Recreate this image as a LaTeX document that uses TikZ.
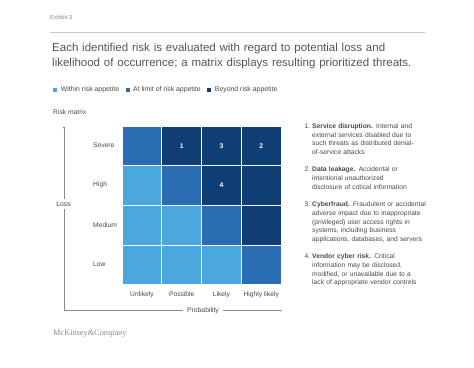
\documentclass[tikz,border=0pt]{standalone}
\usepackage{fontspec}
\setmainfont{Liberation Sans}
\newfontfamily\mckfont{Liberation Serif}
\usetikzlibrary{arrows.meta}
\definecolor{lightb}{HTML}{4BA8DE}
\definecolor{midb}{HTML}{2A6DB3}
\definecolor{darkb}{HTML}{0F3E74}
\definecolor{titlegray}{HTML}{555555}
\definecolor{labgray}{HTML}{4A4A4A}
\definecolor{rulegray}{HTML}{C8C8C8}
\definecolor{axisgray}{HTML}{8A8A8A}
\begin{document}
\begin{tikzpicture}[x=1pt,y=-1pt,
  cell/.style={draw=white, line width=0.8pt, minimum width=39.75pt, minimum height=39.6pt,
    inner sep=0pt, anchor=north west, text=white, font=\fontsize{6.8}{8}\selectfont\bfseries},
  rowlab/.style={anchor=west, inner sep=0pt, text=labgray, font=\fontsize{6.7}{8}\selectfont},
  collab/.style={anchor=center, inner sep=0pt, text=labgray, font=\fontsize{6.7}{8}\selectfont},
  legsq/.style={minimum size=4.2pt, inner sep=0pt, anchor=center},
  legtxt/.style={anchor=west, inner sep=0pt, text=labgray, font=\fontsize{6.9}{8}\selectfont},
  axisline/.style={draw=axisgray, line width=0.5pt, -{Latex[length=2.2pt,width=2.2pt]}},
  axislab/.style={fill=white, inner sep=2.5pt, text=labgray, font=\fontsize{6.8}{8}\selectfont},
  itemnum/.style={anchor=base west, inner sep=0pt, text=labgray, font=\fontsize{6.7}{8.7}\selectfont},
  itemtxt/.style={anchor=base west, inner sep=0pt, text width=130pt, align=left, text=labgray,
    font=\fontsize{6.7}{8.7}\selectfont}]
\useasboundingbox[fill=white] (0,0) rectangle (474,367);

% header
\node[anchor=west, inner sep=0pt, text=axisgray, font=\fontsize{5.8}{7}\selectfont] (exh) at (50,17.3) {Exhibit 3};
\coordinate (rl) at (50,32.3);
\coordinate (rr) at (425,32.3);
\draw[rulegray, line width=0.6pt] (rl) -- (rr);
\node[anchor=base west, inner sep=0pt, text width=400pt, align=left, text=titlegray, font=\fontsize{11.5}{15}\selectfont] (title) at (52,51.5)
  {Each identified risk is evaluated with regard to potential loss and\\likelihood of occurrence; a matrix displays resulting prioritized threats.};

% legend
\node[legsq, fill=lightb] (sq1) at (55.3,90) {};
\node[legtxt] (lg1) at (60.7,90) {Within risk appetite};
\node[legsq, fill=midb] (sq2) at (127.7,90) {};
\node[legtxt] (lg2) at (133,90) {At limit of risk appetite};
\node[legsq, fill=darkb] (sq3) at (209.3,90) {};
\node[legtxt] (lg3) at (214.7,90) {Beyond risk appetite};

\node[rowlab] (rm) at (53,112.3) {Risk matrix};

% matrix cells
\node[cell, fill=midb]  (c11) at (121.7,125.7) {};
\node[cell, fill=darkb] (c12) at (161.45,125.7) {1};
\node[cell, fill=darkb] (c13) at (201.2,125.7) {3};
\node[cell, fill=darkb] (c14) at (240.95,125.7) {2};
\node[cell, fill=lightb] (c21) at (121.7,165.3) {};
\node[cell, fill=midb]   (c22) at (161.45,165.3) {};
\node[cell, fill=darkb]  (c23) at (201.2,165.3) {4};
\node[cell, fill=darkb]  (c24) at (240.95,165.3) {};
\node[cell, fill=lightb] (c31) at (121.7,204.9) {};
\node[cell, fill=lightb] (c32) at (161.45,204.9) {};
\node[cell, fill=midb]   (c33) at (201.2,204.9) {};
\node[cell, fill=darkb]  (c34) at (240.95,204.9) {};
\node[cell, fill=lightb] (c41) at (121.7,244.5) {};
\node[cell, fill=lightb] (c42) at (161.45,244.5) {};
\node[cell, fill=lightb] (c43) at (201.2,244.5) {};
\node[cell, fill=midb]   (c44) at (240.95,244.5) {};

% row labels
\node[rowlab] (rSev) at (93,145.5) {Severe};
\node[rowlab] (rHigh) at (93,185.1) {High};
\node[rowlab] (rMed) at (93,224.7) {Medium};
\node[rowlab] (rLow) at (93,264.3) {Low};

% column labels
\node[collab] (kU) at (c41.center |- 0,294.3) {Unlikely};
\node[collab] (kP) at (c42.center |- 0,294.3) {Possible};
\node[collab] (kL) at (c43.center |- 0,294.3) {Likely};
\node[collab] (kH) at (c44.center |- 0,294.3) {Highly likely};

% axes
\coordinate (corner) at (64,310.7);
\coordinate (ytop) at (64,126);
\coordinate (xend) at (282,310.7);
\draw[axisline] (corner) -- (ytop);
\draw[axisline] (corner) -- (xend);
\node[axislab] (loss) at (63.5,203.7) {Loss};
\node[axislab, inner xsep=4pt] (prob) at (203,310.7) {Probability};

% threat list
\node[itemnum] (n1) at (304.3,128.3) {1.};
\node[itemtxt] (t1) at (312,128.3) {\textbf{Service disruption.} Internal and\\external services disabled due to\\such threats as distributed denial-\\of-service attacks};
\node[itemnum] (n2) at (304.3,171.8) {2.};
\node[itemtxt] (t2) at (312,171.8) {\textbf{Data leakage.} Accidental or\\intentional unauthorized\\disclosure of critical information};
\node[itemnum] (n3) at (304.3,206.6) {3.};
\node[itemtxt] (t3) at (312,206.6) {\textbf{Cyberfraud.} Fraudulent or accidental\\adverse impact due to inappropriate\\(privileged) user access rights in\\systems, including business\\applications, databases, and servers};
\node[itemnum] (n4) at (304.3,258.8) {4.};
\node[itemtxt] (t4) at (312,258.8) {\textbf{Vendor cyber risk.} Critical\\information may be disclosed,\\modified, or unavailable due to a\\lack of appropriate vendor controls};

% footer
\node[anchor=west, inner sep=0pt, text=axisgray, font=\mckfont\fontsize{8.3}{10}\selectfont] (mck) at (53,333.3) {McKinsey\&Company};
\end{tikzpicture}
\end{document}
